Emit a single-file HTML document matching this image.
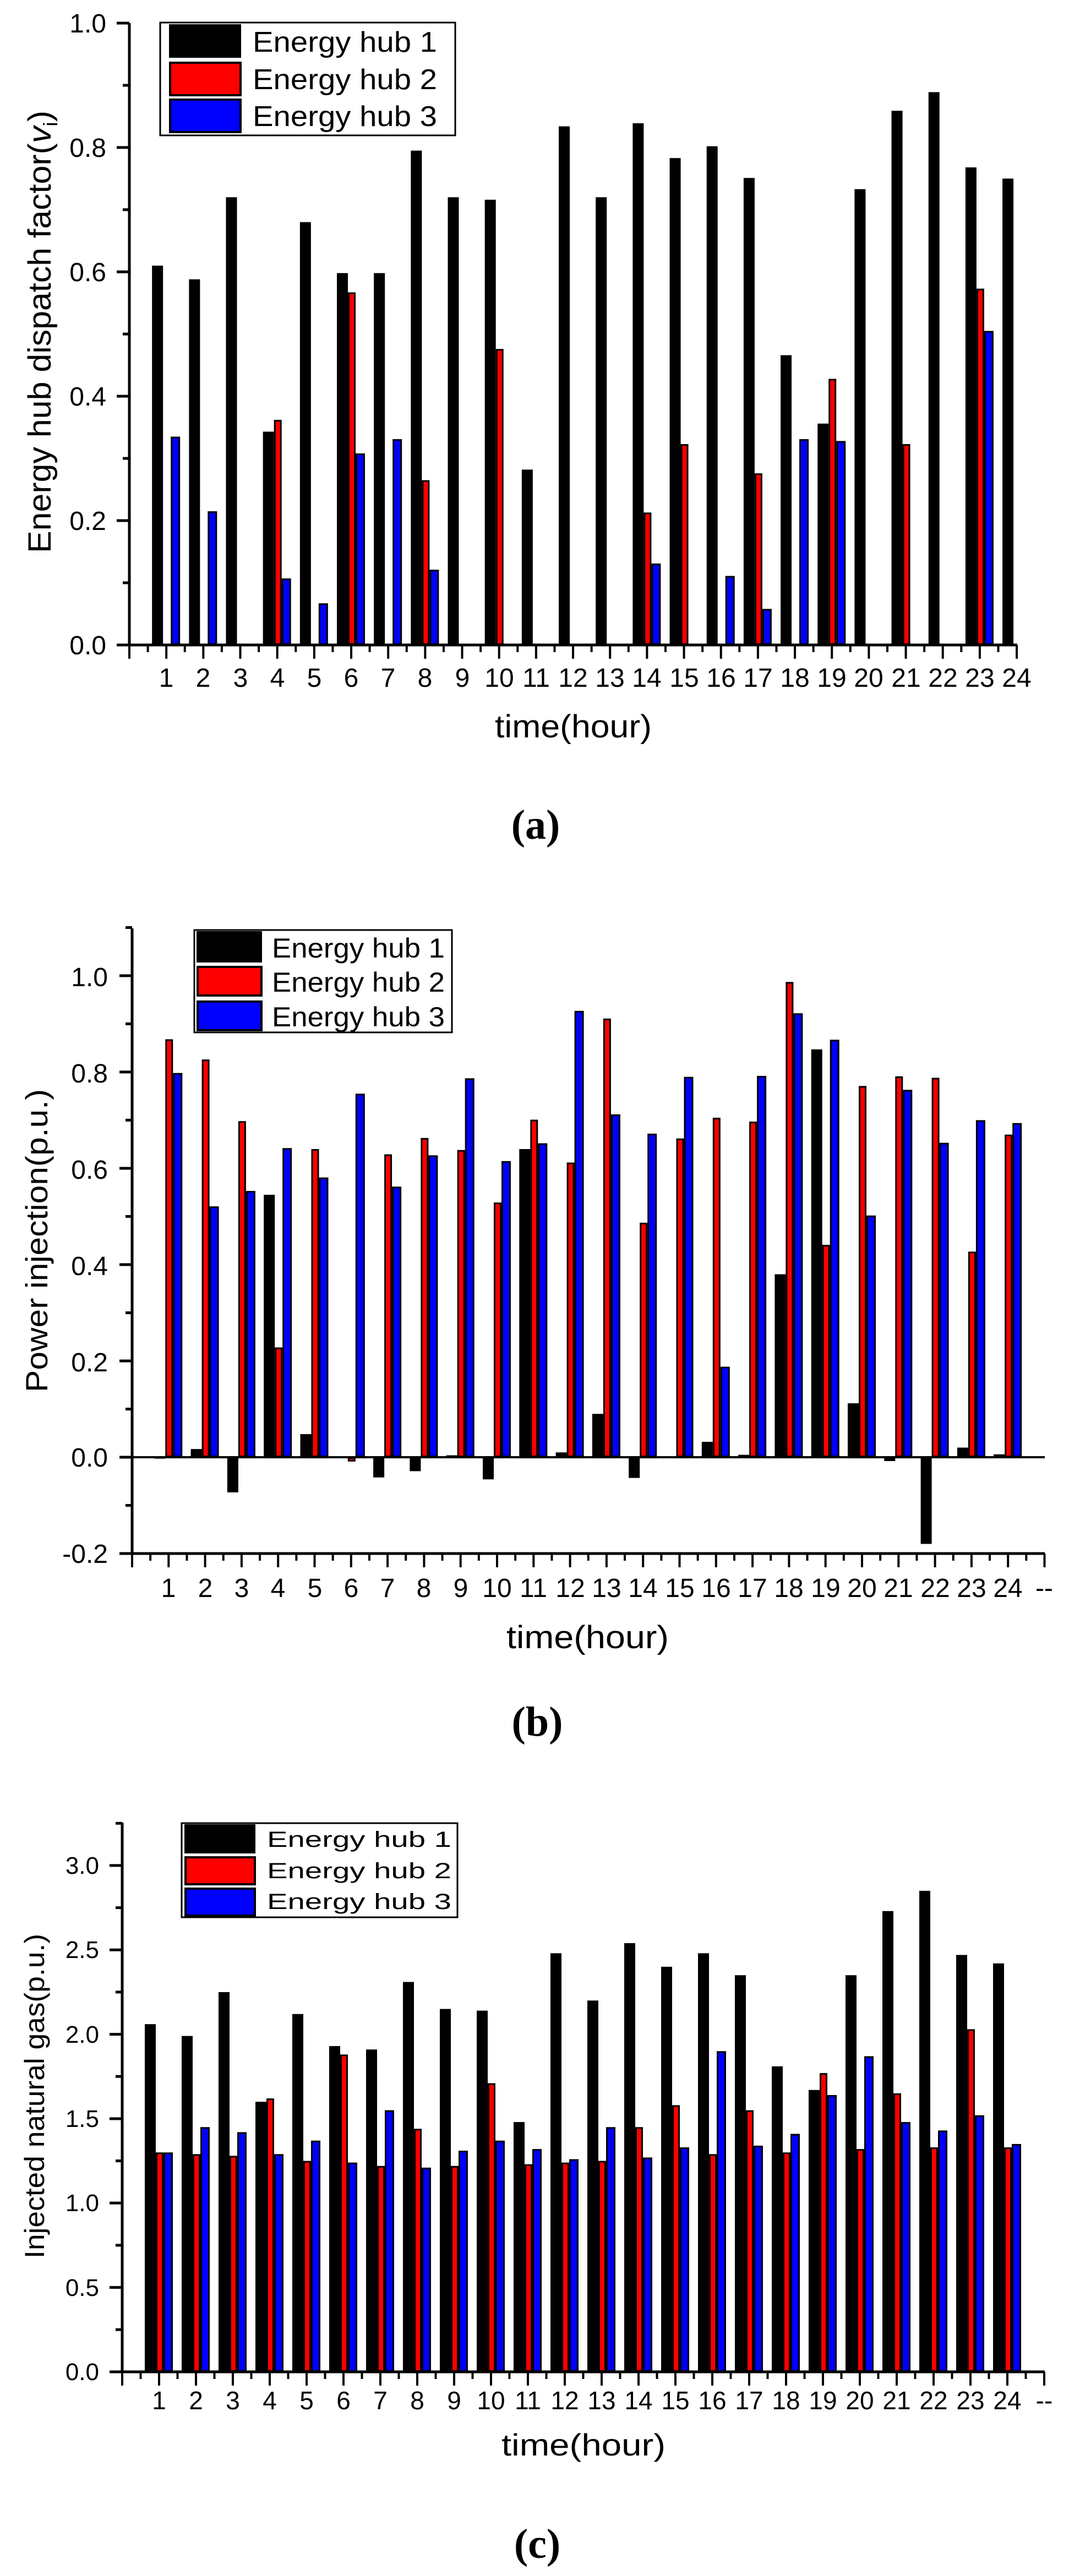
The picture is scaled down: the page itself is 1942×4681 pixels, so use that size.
<!DOCTYPE html>
<html><head><meta charset="utf-8"><style>
html,body{margin:0;padding:0;background:#fff}
svg{display:block}
text{font-family:"Liberation Sans",Arial,sans-serif;fill:#000}
.cap{font-family:"Liberation Serif",serif;font-weight:bold}
</style></head><body>
<svg id="s" width="1942" height="4681" viewBox="0 0 1942 4681" xmlns="http://www.w3.org/2000/svg">
<rect width="1942" height="4681" fill="#fff"/>
<g id="bars"></g>
<g font-size="48" text-anchor="end">
<text x="193" y="59">1.0</text><text x="193" y="285">0.8</text><text x="193" y="511">0.6</text><text x="193" y="737">0.4</text><text x="193" y="963">0.2</text><text x="193" y="1189">0.0</text>
</g>
<g font-size="48" text-anchor="middle">
<text x="302" y="1248">1</text><text x="369" y="1248">2</text><text x="437" y="1248">3</text><text x="504" y="1248">4</text><text x="571" y="1248">5</text><text x="638" y="1248">6</text><text x="705" y="1248">7</text><text x="772" y="1248">8</text><text x="840" y="1248">9</text><text x="907" y="1248">10</text><text x="974" y="1248">11</text><text x="1041" y="1248">12</text><text x="1108" y="1248">13</text><text x="1175" y="1248">14</text><text x="1243" y="1248">15</text><text x="1310" y="1248">16</text><text x="1377" y="1248">17</text><text x="1444" y="1248">18</text><text x="1511" y="1248">19</text><text x="1578" y="1248">20</text><text x="1646" y="1248">21</text><text x="1713" y="1248">22</text><text x="1780" y="1248">23</text><text x="1847" y="1248">24</text>
</g>
<text x="899" y="1340" font-size="58" textLength="285" lengthAdjust="spacingAndGlyphs">time(hour)</text>
<text transform="translate(92,1005) rotate(-90)" font-size="58" textLength="804" lengthAdjust="spacingAndGlyphs">Energy hub dispatch factor(<tspan font-style="italic">v</tspan><tspan font-size="36" dy="12">i</tspan><tspan dy="-12">)</tspan></text>
<rect x="291" y="41" width="536" height="205" fill="#fff" stroke="#000" stroke-width="3"/>
<rect x="307" y="44" width="131" height="61" fill="#000"/>
<rect x="309" y="114" width="128" height="59" fill="#f00" stroke="#000" stroke-width="4"/>
<rect x="309" y="181" width="128" height="59" fill="#00f" stroke="#000" stroke-width="4"/>
<g font-size="52"><text x="459" y="94" textLength="335" lengthAdjust="spacingAndGlyphs">Energy hub 1</text><text x="459" y="162" textLength="335" lengthAdjust="spacingAndGlyphs">Energy hub 2</text><text x="459" y="229" textLength="335" lengthAdjust="spacingAndGlyphs">Energy hub 3</text></g>
<text class="cap" x="973" y="1524" font-size="76" text-anchor="middle">(a)</text>

<g font-size="48" text-anchor="end">
<text x="196" y="1792">1.0</text><text x="196" y="1967">0.8</text><text x="196" y="2142">0.6</text><text x="196" y="2317">0.4</text><text x="196" y="2492">0.2</text><text x="196" y="2665">0.0</text><text x="196" y="2840">-0.2</text>
</g>
<g font-size="48" text-anchor="middle">
<text x="306" y="2902">1</text><text x="373" y="2902">2</text><text x="439" y="2902">3</text><text x="505" y="2902">4</text><text x="572" y="2902">5</text><text x="638" y="2902">6</text><text x="704" y="2902">7</text><text x="770" y="2902">8</text><text x="837" y="2902">9</text><text x="903" y="2902">10</text><text x="969" y="2902">11</text><text x="1036" y="2902">12</text><text x="1102" y="2902">13</text><text x="1168" y="2902">14</text><text x="1235" y="2902">15</text><text x="1301" y="2902">16</text><text x="1367" y="2902">17</text><text x="1433" y="2902">18</text><text x="1500" y="2902">19</text><text x="1566" y="2902">20</text><text x="1632" y="2902">21</text><text x="1699" y="2902">22</text><text x="1765" y="2902">23</text><text x="1831" y="2902">24</text><text x="1897" y="2902">--</text>
</g>
<text x="920" y="2995" font-size="58" textLength="295" lengthAdjust="spacingAndGlyphs">time(hour)</text>
<text transform="translate(86,2530) rotate(-90)" font-size="56" textLength="551" lengthAdjust="spacingAndGlyphs">Power injection(p.u.)</text>
<rect x="353" y="1690" width="468" height="186" fill="#fff" stroke="#000" stroke-width="3"/>
<rect x="357" y="1692" width="119" height="57" fill="#000"/>
<rect x="359" y="1757" width="116" height="52" fill="#f00" stroke="#000" stroke-width="4"/>
<rect x="359" y="1820" width="116" height="52" fill="#00f" stroke="#000" stroke-width="4"/>
<g font-size="50"><text x="494" y="1740" textLength="314" lengthAdjust="spacingAndGlyphs">Energy hub 1</text><text x="494" y="1802" textLength="314" lengthAdjust="spacingAndGlyphs">Energy hub 2</text><text x="494" y="1865" textLength="314" lengthAdjust="spacingAndGlyphs">Energy hub 3</text></g>
<text class="cap" x="976" y="3154" font-size="76" text-anchor="middle">(b)</text>

<g font-size="44" text-anchor="end">
<text x="180" y="3405">3.0</text><text x="180" y="3558">2.5</text><text x="180" y="3712">2.0</text><text x="180" y="3865">1.5</text><text x="180" y="4018">1.0</text><text x="180" y="4172">0.5</text><text x="180" y="4325">0.0</text>
</g>
<g font-size="46" text-anchor="middle">
<text x="289" y="4378">1</text><text x="356" y="4378">2</text><text x="423" y="4378">3</text><text x="490" y="4378">4</text><text x="557" y="4378">5</text><text x="624" y="4378">6</text><text x="691" y="4378">7</text><text x="758" y="4378">8</text><text x="825" y="4378">9</text><text x="892" y="4378">10</text><text x="959" y="4378">11</text><text x="1026" y="4378">12</text><text x="1093" y="4378">13</text><text x="1160" y="4378">14</text><text x="1227" y="4378">15</text><text x="1294" y="4378">16</text><text x="1361" y="4378">17</text><text x="1428" y="4378">18</text><text x="1495" y="4378">19</text><text x="1562" y="4378">20</text><text x="1629" y="4378">21</text><text x="1696" y="4378">22</text><text x="1763" y="4378">23</text><text x="1830" y="4378">24</text><text x="1897" y="4378">--</text>
</g>
<text x="911" y="4462" font-size="56" textLength="298" lengthAdjust="spacingAndGlyphs">time(hour)</text>
<text transform="translate(80,4104) rotate(-90)" font-size="50" textLength="590" lengthAdjust="spacingAndGlyphs">Injected natural gas(p.u.)</text>
<rect x="330" y="3313" width="501" height="171" fill="#fff" stroke="#000" stroke-width="3"/>
<rect x="335" y="3315" width="129" height="53" fill="#000"/>
<rect x="337" y="3375" width="126" height="49" fill="#f00" stroke="#000" stroke-width="4"/>
<rect x="337" y="3432" width="126" height="49" fill="#00f" stroke="#000" stroke-width="4"/>
<g font-size="40"><text x="485" y="3356" textLength="335" lengthAdjust="spacingAndGlyphs">Energy hub 1</text><text x="485" y="3413" textLength="335" lengthAdjust="spacingAndGlyphs">Energy hub 2</text><text x="485" y="3469" textLength="335" lengthAdjust="spacingAndGlyphs">Energy hub 3</text></g>
<text class="cap" x="976" y="4648" font-size="76" text-anchor="middle">(c)</text>
</svg>
<script>
(function(){
var NS="http://www.w3.org/2000/svg",g=document.getElementById("bars");
function el(t,a){var e=document.createElementNS(NS,t);for(var k in a)e.setAttribute(k,a[k]);g.appendChild(e);return e;}
function line(x1,y1,x2,y2,w){el("line",{x1:x1,y1:y1,x2:x2,y2:y2,stroke:"#000","stroke-width":w||4});}
function chart(c){
  function Y(v){return c.y0-(v*c.py);}
  function X(h){return c.x0+h*c.dx;}
  for(var i=0;i<24;i++){
    var h=i+1,xc=X(h);
    var defs=[[c.d[0][i],"#000",-26,-6],[c.d[1][i],"#f00",-6,8],[c.d[2][i],"#00f",8,25]];
    defs.forEach(function(d){
      var v=d[0]; if(v===null||Math.abs(v)<0.0005)return;
      var y1=Y(Math.max(v,0)),y2=Y(Math.min(v,0));
      if(d[1]=="#000"){el("rect",{x:xc+d[2],y:y1,width:d[3]-d[2],height:Math.max(y2-y1,2),fill:"#000"});}
      else{el("rect",{x:xc+d[2]+1.5,y:y1+1.5,width:d[3]-d[2]-3,height:Math.max(y2-y1-3,1),fill:d[1],stroke:"#000","stroke-width":3});}
    });
  }
  line(c.x0,c.top,c.x0,c.bottom+2,5);
  line(c.x0-2,c.bottom,c.xend,c.bottom,5);
  if(c.zero) line(c.x0,c.y0,c.xend,c.y0,4);
  for(var v=c.ymin;v<=c.ymax+1e-6;v+=c.minor){
    var maj=Math.abs(Math.round(v/c.major)*c.major-v)<1e-6;
    var y=Y(v); line(c.x0-(maj?23:12),y,c.x0,y,5);
  }
  for(var k=0;k<=c.n*2;k++){
    var x=c.x0+k*c.dx/2,maj=k%2==0;
    line(x,c.bottom,x,c.bottom+(maj?25:13),4);
  }
}
chart({x0:235,dx:67.17,y0:1172,py:1130,top:42,bottom:1172,xend:1848,ymin:0,ymax:1.0,minor:0.1,major:0.2,n:24,
 d:[[0.61,0.588,0.72,0.343,0.68,0.598,0.598,0.795,0.72,0.716,0.282,0.834,0.72,0.839,0.783,0.802,0.751,0.466,0.356,0.733,0.859,0.889,0.768,0.75],
    [0,0,0,0.362,0,0.567,0,0.265,0,0.476,0,0,0,0.213,0.323,0,0.276,0,0.428,0,0.323,0,0.573,0],
    [0.335,0.215,0,0.107,0.067,0.308,0.331,0.121,0,0,0,0,0,0.131,0,0.111,0.058,0.331,0.328,0,0,0,0.505,0]]});
chart({x0:240,dx:66.3,y0:2648,py:875,top:1687,bottom:2823,xend:1898,ymin:-0.2,ymax:1.1,minor:0.1,major:0.2,n:25,zero:true,
 d:[[-0.003,0.017,-0.073,0.545,0.048,0,-0.042,-0.029,0.004,-0.046,0.64,0.01,0.09,-0.043,-0.002,0.032,0.005,0.38,0.847,0.112,-0.008,-0.18,0.02,0.006],
    [0.868,0.826,0.698,0.228,0.64,-0.009,0.629,0.663,0.638,0.529,0.701,0.612,0.911,0.487,0.662,0.705,0.697,0.987,0.441,0.771,0.791,0.788,0.427,0.67],
    [0.798,0.521,0.553,0.642,0.581,0.755,0.562,0.627,0.787,0.615,0.652,0.927,0.712,0.672,0.79,0.188,0.792,0.922,0.867,0.502,0.763,0.653,0.7,0.694]]});
chart({x0:222,dx:67.0,y0:4310,py:306.7,top:3312,bottom:4310,xend:1898,ymin:0,ymax:3.25,minor:0.25,major:0.5,n:25,
 d:[[2.06,1.99,2.25,1.6,2.12,1.93,1.91,2.31,2.15,2.14,1.48,2.48,2.2,2.54,2.4,2.48,2.35,1.81,1.67,2.35,2.73,2.85,2.47,2.42],
    [1.3,1.29,1.28,1.62,1.25,1.88,1.22,1.44,1.22,1.71,1.23,1.24,1.25,1.45,1.58,1.29,1.55,1.3,1.77,1.32,1.65,1.33,2.03,1.33],
    [1.3,1.45,1.42,1.29,1.37,1.24,1.55,1.21,1.31,1.37,1.32,1.26,1.45,1.27,1.33,1.9,1.34,1.41,1.64,1.87,1.48,1.43,1.52,1.35]]});
})();
</script>
</body></html>
